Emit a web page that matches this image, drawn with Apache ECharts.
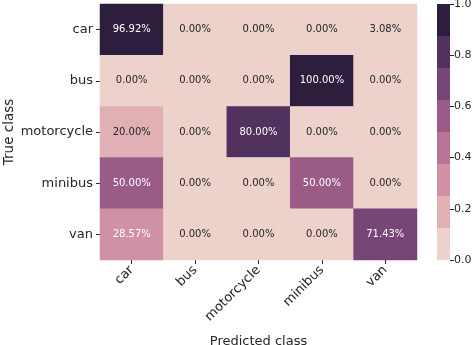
<!DOCTYPE html>
<html>
<head>
<meta charset="utf-8">
<script src="https://cdn.jsdelivr.net/npm/echarts@6/dist/echarts.min.js"></script>
<style>
  html, body { margin: 0; padding: 0; background: #fff; }
  #chart { width: 474px; height: 345px; }
</style>
</head>
<body>
<div id="chart"></div>
<script>
// Class names (rows = true class, columns = predicted class)
const classes = ['car', 'bus', 'motorcycle', 'minibus', 'van'];

// Row-normalised confusion matrix, one array per true class
const rowCar        = [0.9692, 0.0, 0.0, 0.0, 0.0308];
const rowBus        = [0.0, 0.0, 0.0, 1.0, 0.0];
const rowMotorcycle = [0.20, 0.0, 0.80, 0.0, 0.0];
const rowMinibus    = [0.50, 0.0, 0.0, 0.50, 0.0];
const rowVan        = [0.2857, 0.0, 0.0, 0.0, 0.7143];
const matrixRows = [rowCar, rowBus, rowMotorcycle, rowMinibus, rowVan];

// Discrete cubehelix palette (light -> dark) and its band edges
const palette = ['#edd1cb', '#e1b0b4', '#cf91a3', '#b87496', '#9a5b88', '#774576', '#51315e', '#2d1e3e'];
const bandEdges = [0, 0.125, 0.25, 0.375, 0.5, 0.625, 0.75, 0.875, 1.0];

// Colour bar tick labels
const colorbarTicks = [0.0, 0.2, 0.4, 0.6, 0.8, 1.0];

const FONT = 'DejaVu Sans';
const INK = '#262626';

const cells = [];
matrixRows.forEach((row, yi) => {
  row.forEach((v, xi) => cells.push([xi, yi, v]));
});

const pieces = palette.map((c, i) => ({
  gte: bandEdges[i],
  lt: i === palette.length - 1 ? bandEdges[i + 1] + 1e-9 : bandEdges[i + 1],
  color: c
}));

// Colour bar segments: one stacked bar per band
const barSeries = palette.map((c, i) => ({
  type: 'bar',
  xAxisIndex: 1,
  yAxisIndex: 1,
  stack: 'cb',
  barWidth: '100%',
  silent: true,
  itemStyle: { color: c },
  data: [bandEdges[i + 1] - bandEdges[i]]
}));

const chart = echarts.init(document.getElementById('chart'), null, { renderer: 'canvas' });
chart.setOption({
  animation: false,
  textStyle: { fontFamily: FONT },
  grid: [
    { left: 100, top: 4, width: 317, height: 256, containLabel: false, outerBoundsMode: 'none' },
    { left: 437, top: 4, width: 13, height: 256, containLabel: false, outerBoundsMode: 'none' }
  ],
  xAxis: [
    {
      type: 'category',
      data: classes,
      gridIndex: 0,
      position: 'bottom',
      axisLine: { show: false },
      axisTick: { show: true, alignWithLabel: true, length: 4, lineStyle: { color: INK, width: 1 } },
      axisLabel: { rotate: 45, color: INK, fontSize: 13, fontFamily: FONT, margin: 8 },
      splitLine: { show: false },
      name: 'Predicted class',
      nameLocation: 'middle',
      nameGap: 75,
      nameMoveOverlap: false,
      nameTextStyle: { color: INK, fontSize: 13, fontFamily: FONT }
    },
    {
      type: 'category',
      data: ['cb'],
      gridIndex: 1,
      show: false,
      boundaryGap: true
    }
  ],
  yAxis: [
    {
      type: 'category',
      data: classes,
      gridIndex: 0,
      inverse: true,
      axisLine: { show: false },
      axisTick: { show: true, alignWithLabel: true, length: 4, lineStyle: { color: INK, width: 1 } },
      axisLabel: { color: INK, fontSize: 13, fontFamily: FONT, margin: 7 },
      splitLine: { show: false },
      name: 'True class',
      nameLocation: 'middle',
      nameGap: 84,
      nameMoveOverlap: false,
      nameTextStyle: { color: INK, fontSize: 13.5, fontFamily: FONT }
    },
    {
      type: 'value',
      gridIndex: 1,
      position: 'right',
      min: 0,
      max: 1,
      interval: 0.2,
      axisLine: { show: false },
      axisTick: { show: true, length: 4, lineStyle: { color: INK, width: 1 } },
      axisLabel: {
        color: INK, fontSize: 11, fontFamily: FONT, margin: 4,
        formatter: v => (colorbarTicks.some(t => Math.abs(t - v) < 1e-6) ? v.toFixed(1) : '')
      },
      splitLine: { show: false }
    }
  ],
  visualMap: {
    type: 'piecewise',
    show: false,
    seriesIndex: 0,
    dimension: 2,
    pieces: pieces
  },
  series: [
    {
      type: 'heatmap',
      xAxisIndex: 0,
      yAxisIndex: 0,
      data: cells,
      itemStyle: { borderWidth: 0 },
      label: {
        show: true,
        fontFamily: FONT,
        fontSize: 10,
        formatter: p => {
          const v = p.value[2];
          const txt = (v * 100).toFixed(2) + '%';
          return v >= bandEdges[2] ? '{w|' + txt + '}' : '{d|' + txt + '}';
        },
        rich: {
          w: { color: '#ffffff', fontSize: 10, fontFamily: FONT },
          d: { color: INK, fontSize: 10, fontFamily: FONT }
        }
      },
      emphasis: { disabled: true }
    }
  ].concat(barSeries)
});
</script>
</body>
</html>
